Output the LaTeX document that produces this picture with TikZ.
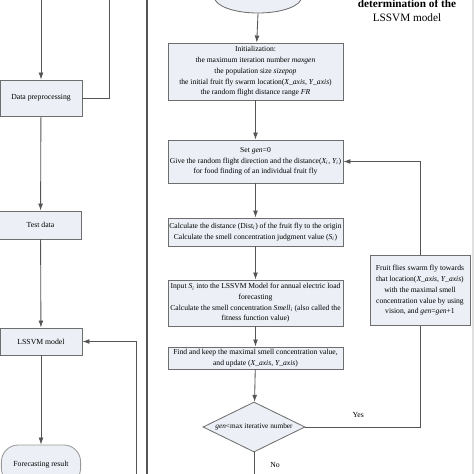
\documentclass[tikz,border=0pt]{standalone}
\usepackage{fontspec}
\setmainfont{Liberation Serif}
\usepackage{xcolor}
\usetikzlibrary{shapes.geometric, arrows.meta, positioning, calc}
\definecolor{boxfill}{HTML}{ECEFF5}
\definecolor{boxline}{HTML}{6E6E6E}
\definecolor{flowline}{HTML}{555555}

\begin{document}
\begin{tikzpicture}[
    x=0.025cm, y=-0.025cm,
    proc/.style={rectangle, draw=boxline, fill=boxfill, line width=0.6pt,
        minimum width=4.375cm, align=center, inner sep=1pt,
        font=\fontsize{5.4}{7.6}\selectfont},
    side/.style={proc, minimum width=2.05cm, font=\fontsize{5.5}{7}\selectfont},
    term/.style={rectangle, rounded corners=12pt, draw=boxline!70, fill=boxfill,
        line width=0.6pt, minimum width=1.98cm, minimum height=1cm,
        font=\fontsize{5.5}{7}\selectfont},
    deci/.style={diamond, aspect=2, draw=boxline, fill=boxfill, line width=0.6pt,
        minimum width=2.55cm, minimum height=1.25cm, inner sep=0pt,
        font=\fontsize{5.2}{6}\selectfont},
    arr/.style={-{Latex[length=5pt, width=3.5pt]}, line width=0.6pt, flowline},
    lin/.style={line width=0.6pt, flowline},
    lbl/.style={font=\fontsize{5.5}{7}\selectfont, text=black}
]
    \useasboundingbox (0,0) rectangle (474,474);
    \clip (0,0) rectangle (474,474);

    % left column: data flow
    \node[side, minimum height=0.9cm] (prep) at (41,98) {Data preprocessing};
    \node[side, minimum height=0.7cm] (test) at (40.5,225) {Test data};
    \node[side, minimum height=0.675cm] (model) at (41,341.5) {LSSVM model};
    \node[term] (result) at (41,465) {Forecasting result};
    \coordinate (topin) at (41,-2);
    \coordinate (topout) at (109,-2);
    \coordinate (feed) at (136,480);

    \draw[arr] (topin) -- (prep);
    \draw[lin] (prep.east) -| (topout);
    \draw[arr] (prep) -- (test);
    \draw[arr] (test) -- (model);
    \draw[arr] (model) -- (result);
    \draw[arr] (feed) |- (model.east);

    % separator
    \draw[line width=1.4pt, flowline] (147,-2) -- (147,480);
    \draw[line width=1pt, black!12] (473,-2) -- (473,480);

    % right column: FOA parameter search
    \node[ellipse, draw=boxline, fill=boxfill, line width=0.6pt,
        minimum width=2.18cm, minimum height=0.8cm] (start) at (258,-3) {};
    \node[align=center, font=\fontsize{8}{10}\selectfont] (title) at (407,11)
        {\textbf{determination of the}\\LSSVM model};

    \node[proc, minimum height=1.425cm] (init) at (255.5,71.5)
        {Initialization:\\
         the maximum iteration number \textit{maxgen}\\
         the population size \textit{sizepop}\\
         the initial fruit fly swarm location(\textit{X\_axis}, \textit{Y\_axis})\\
         the random flight distance range \textit{FR}};
    \node[proc, minimum height=1.075cm] (setgen) at (255.5,161.5)
        {Set \textit{gen}=0\\
         Give the random flight direction and the distance(\textit{X\textsubscript{i}}, \textit{Y\textsubscript{i}})\\
         for food finding of an individual fruit fly};
    \node[proc, minimum height=0.7cm] (calc) at (255.5,232)
        {Calculate the distance (Dist\textsubscript{\textit{i}}) of the fruit fly to the origin\\
         Calculate the smell concentration judgment value (\textit{S\textsubscript{i}})};
    \node[proc, minimum height=1.15cm] (input) at (255.5,303)
        {Input \textit{S\textsubscript{i}} into the LSSVM Model for annual electric load\\
         forecasting\\
         Calculate the smell concentration \textit{Smell\textsubscript{i}} (also called the\\
         fitness function value)};
    \node[proc, minimum height=0.55cm] (best) at (255.5,358)
        {Find and keep the maximal smell concentration value,\\
         and update (\textit{X\_axis}, \textit{Y\_axis})};
    \node[deci] (check) at (254,427) {\textit{gen}<max iterative number};
    \node[proc, minimum width=2.5cm, minimum height=1.75cm] (swarm) at (420,290.5)
        {Fruit flies swarm fly towards\\
         that location(\textit{X\_axis}, \textit{Y\_axis})\\
         with the maximal smell\\
         concentration value by using\\
         vision, and \textit{gen}=\textit{gen}+1};
    \coordinate (exit) at (254,480);

    \draw[arr] (start.south) -- (init);
    \foreach \a/\b in {init/setgen, setgen/calc, calc/input, input/best, best/check}
        \draw[arr] (\a) -- (\b);
    \draw[lin] (check.east) -| node[lbl, above, pos=0.23, yshift=3pt] {Yes} (swarm.south);
    \draw[arr] (swarm.north) |- (setgen.east);
    \draw[lin] (check.south) -- node[lbl, right, pos=0.45, xshift=8pt] {No} (exit);
\end{tikzpicture}
\end{document}
